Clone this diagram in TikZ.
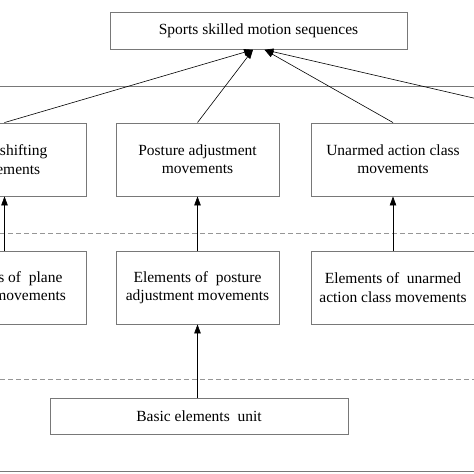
\documentclass[tikz,border=0pt]{standalone}
\usepackage{fontspec}
\setmainfont{Liberation Serif}
\usetikzlibrary{arrows.meta}
\definecolor{boxgray}{RGB}{120,120,120}
\definecolor{dashgray}{RGB}{150,150,150}
\tikzset{
  box/.style={draw=boxgray, line width=0.9pt, fill=white, inner sep=0pt, align=center,
    font=\fontsize{15.5}{18.3}\selectfont, text=black},
  rowbox/.style={box, minimum width=163pt, minimum height=73pt},
  conn/.style={draw=black, line width=0.6pt, -{Triangle[length=9pt,width=6.5pt]}},
  sep/.style={draw=boxgray, line width=1pt},
  dsep/.style={draw=dashgray, line width=0.9pt, dash pattern=on 5pt off 3pt}
}
\begin{document}
\begin{tikzpicture}[x=1pt,y=-1pt]
\clip (0,0) rectangle (474,474);
\fill[white] (0,0) rectangle (474,474);
% separators
\coordinate (s1l) at (0,86);   \coordinate (s1r) at (474,86);
\coordinate (s2l) at (0,233);  \coordinate (s2r) at (474,233);
\coordinate (s3l) at (0,379);  \coordinate (s3r) at (474,379);
\coordinate (s4l) at (0,471);  \coordinate (s4r) at (474,471);
\draw[sep] (s1l) -- (s1r);
\draw[dsep] (s2l) -- (s2r);
\draw[dsep] (s3l) -- (s3r);
\draw[sep] (s4l) -- (s4r);
% nodes
\node[box, minimum width=297pt, minimum height=37pt] (top) at (258.5,30.8) {Sports skilled motion sequences};
\node[rowbox] (a1) at (4.5,159.5) {Plane shifting\\movements};
\node[rowbox] (a2) at (197.5,159.5) {Posture adjustment\\movements};
\node[rowbox] (a3) at (393,159.5) {Unarmed action class\\movements};
\node[rowbox] (b1) at (4.5,287.5) {Elements of\ \ plane\\shifting movements};
\node[rowbox] (b2) at (197.5,287.5) {Elements of\ \ posture\\adjustment movements};
\node[rowbox] (b3) at (393,287.5) {Elements of\ \ unarmed\\action class movements};
\node[box, minimum width=298pt, minimum height=36pt] (base) at (199,416) {Basic elements\ \ unit};
\coordinate (a4top) at (560,118);
% connectors
\coordinate (tl) at ([xshift=-5.5pt]top.south);
\coordinate (tr) at ([xshift=6pt]top.south);
\draw[conn] (a1.north) -- (tl);
\draw[conn] (a2.north) -- (tl);
\draw[conn] (a3.north) -- (tr);
\draw[conn] (a4top) -- (tr);
\draw[conn] (b1.north) -- (a1.south);
\draw[conn] (b2.north) -- (a2.south);
\draw[conn] (b3.north) -- (a3.south);
\draw[conn] (b2.south |- base.north) -- (b2.south);
\end{tikzpicture}
\end{document}
